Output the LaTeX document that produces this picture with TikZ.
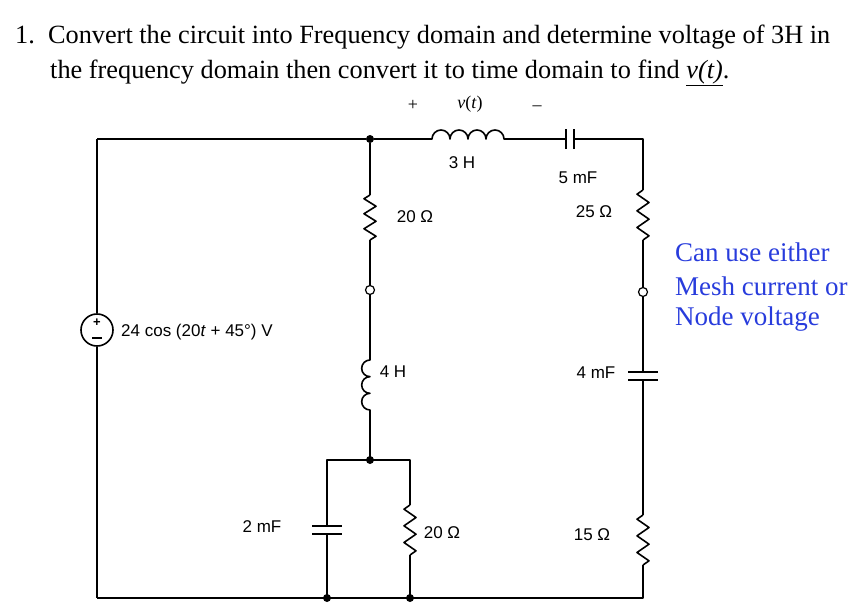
\documentclass[tikz,border=0pt]{standalone}
\usepackage{fontspec}
\setmainfont{Liberation Serif}
\newfontfamily\cfont{Liberation Sans}
\definecolor{bluetext}{RGB}{40,60,220}
\newcommand{\vres}[3]{\draw[wire] (#1,-#2) -- ++(-6,-0.0833*#3+0.0833*#2) \foreach \i in {1,...,5}{ -- ++({12*(mod(\i,2)==1?1:-1)},-0.1667*#3+0.1667*#2)} -- (#1,-#3);}
\begin{document}
\begin{tikzpicture}[x=1pt,y=1pt,
  wire/.style={line width=1.6pt,line join=round},
  dotn/.style={circle,fill=black,inner sep=0pt,minimum size=8pt},
  opn/.style={circle,draw,fill=white,line width=1.2pt,inner sep=0pt,minimum size=9pt},
  lab/.style={font=\cfont\fontsize{17}{19}\selectfont,inner sep=0pt},
  title/.style={font=\fontsize{26.3}{30}\selectfont,anchor=west,inner sep=0pt},
  blue/.style={font=\fontsize{27}{30}\selectfont,anchor=west,inner sep=0pt,text=bluetext}]
\useasboundingbox (0,0) rectangle (855,-610);
\node[title] (t1) at (15,-37) {1.\ \ Convert the circuit into Frequency domain and determine voltage of 3H in};
\node[title] (t2) at (50,-73) {the frequency domain then convert it to time domain to find \underline{\textit{v(t)}}.};
\node[blue] (b1) at (675,-252) {Can use either};
\node[blue] (b2) at (675,-286) {Mesh current or};
\node[blue] (b3) at (675,-319) {Node voltage};
% top wire
\coordinate (TL) at (97,-139);
\node[dotn] (A) at (370,-139) {};
\coordinate (L1a) at (432,-139);
\coordinate (C1a) at (566,-139);
\coordinate (C1b) at (574,-139);
\coordinate (TR) at (643,-139);
\draw[wire] (TL) -- (A) -- (L1a) arc(180:0:9) arc(180:0:9) arc(180:0:9) arc(180:0:9) -- (C1a);
\draw[wire] (C1a) ++(0,-10) -- ++(0,20);
\draw[wire] (C1b) ++(0,-10) -- ++(0,20);
\draw[wire] (C1b) -- (TR) -- (643,-190);
% source
\node[circle,draw,line width=1.6pt,minimum size=32pt,inner sep=0pt] (S) at (97,-330) {};
\node[font=\cfont\bfseries\fontsize{13}{13}\selectfont,inner sep=0pt] (sp) at (97,-323) {+};
\draw[line width=1.4pt] (92,-338) -- (102,-338);
\draw[wire] (TL) -- (S.north);
\draw[wire] (S.south) -- (97,-598);
% middle branch
\draw[wire] (A) -- (370,-195);
\vres{370}{195}{240}
\node[opn] (O1) at (370,-290) {};
\draw[wire] (370,-240) -- (O1) -- (370,-360) arc(90:270:8.33) arc(90:270:8.33) arc(90:270:8.33) -- (370,-460);
\node[dotn] (B) at (370,-460) {};
\draw[wire] (327,-526) -- (327,-460) -- (410,-460) -- (410,-505);
% 2mF cap
\draw[wire] (312,-526) -- (342,-526);
\draw[wire] (312,-534) -- (342,-534);
\draw[wire] (327,-534) -- (327,-598);
\vres{410}{505}{555}
\draw[wire] (410,-555) -- (410,-598);
% bottom
\draw[wire] (97,-598) -- (643,-598) -- (643,-565);
\node[dotn] (D1) at (327,-598) {};
\node[dotn] (D2) at (410,-598) {};
% right branch
\vres{643}{190}{240}
\node[opn] (O2) at (643,-292) {};
\draw[wire] (643,-240) -- (O2) -- (643,-372);
\draw[wire] (628,-372) -- (658,-372);
\draw[wire] (628,-380) -- (658,-380);
\draw[wire] (643,-380) -- (643,-515);
\vres{643}{515}{565}
% labels
\node[font=\fontsize{18}{18}\selectfont] (pl) at (413,-105) {+};
\node[font=\fontsize{18}{18}\selectfont] (vt) at (470,-104) {\textit{v}(\textit{t})};
\node[font=\fontsize{18}{18}\selectfont] (mi) at (537,-108) {--};
\node[lab] (l3H) at (462,-163) {3 H};
\node[lab] (l5mF) at (578,-178) {5 mF};
\node[lab] (l25) at (594,-212) {25 Ω};
\node[lab] (l20a) at (415,-217) {20 Ω};
\node[lab,anchor=west] (lsrc) at (121,-332) {24 cos (20\textit{t} + 45°) V};
\node[lab] (l4H) at (393,-372) {4 H};
\node[lab] (l4mF) at (596,-373) {4 mF};
\node[lab] (l2mF) at (262,-527) {2 mF};
\node[lab] (l20b) at (442,-533) {20 Ω};
\node[lab] (l15) at (592,-535) {15 Ω};
\end{tikzpicture}
\end{document}
